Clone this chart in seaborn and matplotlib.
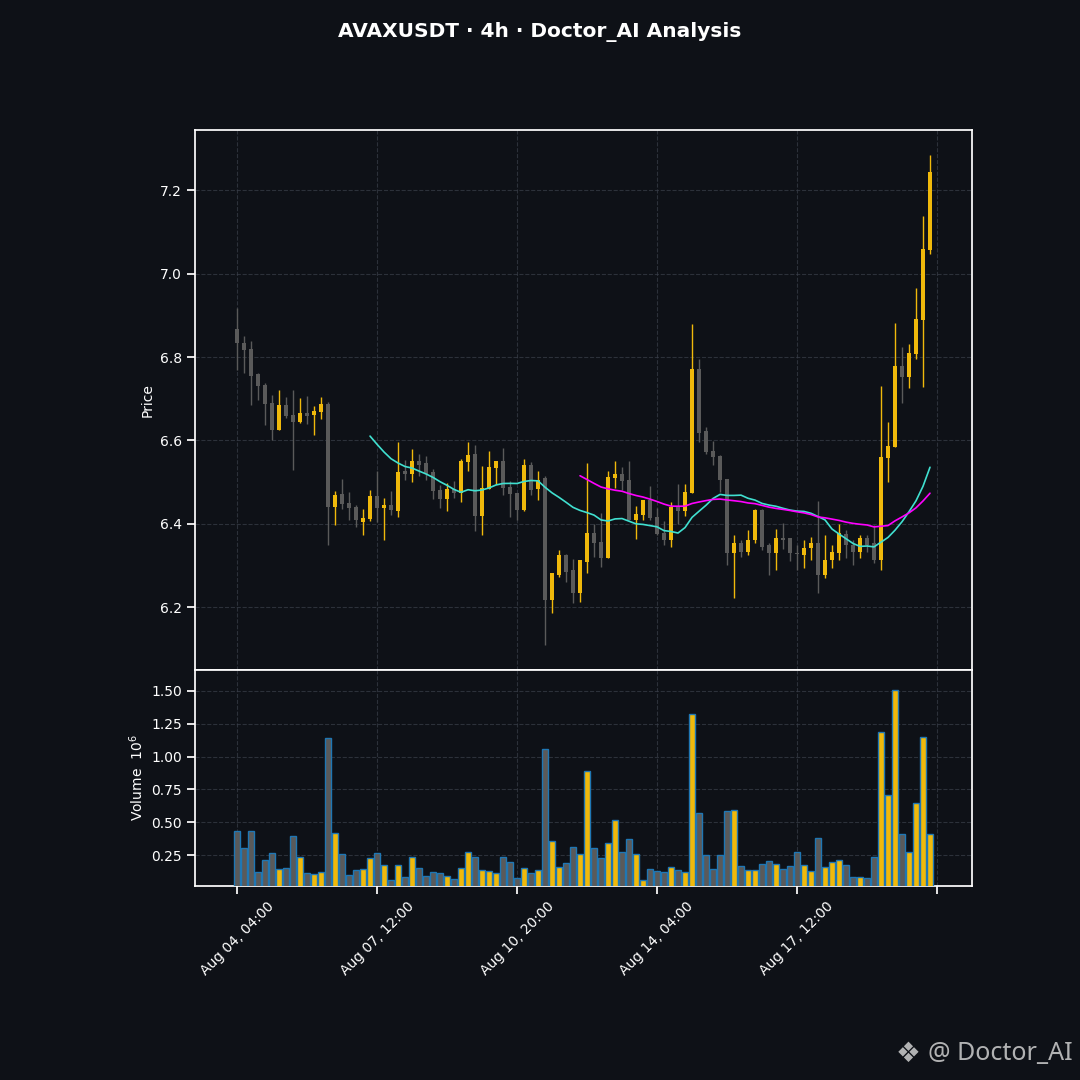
import matplotlib
matplotlib.use("Agg")
import matplotlib.pyplot as plt
import numpy as np
import pandas as pd
import seaborn as sns

# 4h candles, AVAXUSDT, starting Aug 04 04:00
start_time = "2025-08-04 04:00"

opens = [
    6.867, 6.834, 6.819, 6.759, 6.733, 6.690, 6.625, 6.685, 6.661, 6.644,
    6.666, 6.661, 6.668, 6.688, 6.441, 6.472, 6.451, 6.441, 6.405, 6.412,
    6.467, 6.439, 6.446, 6.431, 6.527, 6.520, 6.551, 6.546, 6.525, 6.482,
    6.460, 6.484, 6.474, 6.549, 6.568, 6.419, 6.484, 6.534, 6.551, 6.489,
    6.474, 6.434, 6.542, 6.484, 6.510, 6.216, 6.278, 6.324, 6.288, 6.235,
    6.309, 6.379, 6.357, 6.317, 6.510, 6.520, 6.506, 6.410, 6.422, 6.458,
    6.417, 6.379, 6.360, 6.441, 6.431, 6.474, 6.771, 6.623, 6.575, 6.563,
    6.508, 6.331, 6.355, 6.333, 6.362, 6.434, 6.348, 6.329, 6.367, 6.365,
    6.329, 6.326, 6.341, 6.353, 6.276, 6.312, 6.331, 6.376, 6.350, 6.333,
    6.365, 6.353, 6.312, 6.558, 6.585, 6.779, 6.752, 6.807, 6.889, 7.056,
]
highs = [
    6.919, 6.850, 6.838, 6.763, 6.739, 6.709, 6.721, 6.704, 6.721, 6.702,
    6.707, 6.683, 6.704, 6.692, 6.479, 6.508, 6.477, 6.446, 6.436, 6.482,
    6.527, 6.463, 6.479, 6.597, 6.553, 6.580, 6.568, 6.563, 6.532, 6.494,
    6.498, 6.503, 6.556, 6.597, 6.589, 6.539, 6.575, 6.551, 6.582, 6.503,
    6.474, 6.556, 6.549, 6.527, 6.515, 6.281, 6.336, 6.328, 6.316, 6.314,
    6.546, 6.400, 6.427, 6.527, 6.551, 6.537, 6.551, 6.443, 6.458, 6.491,
    6.439, 6.407, 6.453, 6.496, 6.496, 6.879, 6.795, 6.632, 6.599, 6.565,
    6.508, 6.372, 6.360, 6.386, 6.436, 6.436, 6.353, 6.388, 6.403, 6.365,
    6.348, 6.360, 6.369, 6.455, 6.372, 6.348, 6.400, 6.384, 6.360, 6.374,
    6.374, 6.398, 6.731, 6.645, 6.882, 6.824, 6.831, 6.965, 7.138, 7.286,
]
lows = [
    6.769, 6.761, 6.685, 6.697, 6.636, 6.600, 6.625, 6.654, 6.530, 6.642,
    6.640, 6.613, 6.652, 6.348, 6.396, 6.436, 6.408, 6.393, 6.372, 6.407,
    6.405, 6.362, 6.420, 6.417, 6.506, 6.501, 6.515, 6.506, 6.460, 6.439,
    6.431, 6.463, 6.453, 6.527, 6.383, 6.374, 6.484, 6.496, 6.470, 6.417,
    6.410, 6.431, 6.470, 6.458, 6.108, 6.187, 6.273, 6.261, 6.209, 6.213,
    6.281, 6.321, 6.297, 6.317, 6.486, 6.482, 6.408, 6.364, 6.408, 6.410,
    6.372, 6.350, 6.345, 6.400, 6.419, 6.474, 6.597, 6.568, 6.542, 6.477,
    6.300, 6.221, 6.321, 6.324, 6.355, 6.336, 6.278, 6.290, 6.340, 6.310,
    6.290, 6.295, 6.312, 6.235, 6.271, 6.295, 6.312, 6.319, 6.302, 6.317,
    6.333, 6.305, 6.290, 6.501, 6.585, 6.690, 6.726, 6.795, 6.728, 7.047,
]
closes = [
    6.833, 6.817, 6.755, 6.731, 6.688, 6.625, 6.685, 6.659, 6.644, 6.666,
    6.659, 6.671, 6.688, 6.441, 6.470, 6.448, 6.439, 6.408, 6.415, 6.467,
    6.439, 6.446, 6.434, 6.525, 6.520, 6.551, 6.541, 6.520, 6.479, 6.460,
    6.484, 6.474, 6.551, 6.565, 6.419, 6.486, 6.537, 6.551, 6.486, 6.472,
    6.434, 6.542, 6.482, 6.506, 6.216, 6.281, 6.324, 6.285, 6.235, 6.312,
    6.379, 6.355, 6.319, 6.513, 6.520, 6.503, 6.410, 6.424, 6.458, 6.415,
    6.376, 6.360, 6.441, 6.431, 6.477, 6.771, 6.618, 6.573, 6.561, 6.506,
    6.331, 6.355, 6.333, 6.362, 6.432, 6.345, 6.329, 6.367, 6.362, 6.329,
    6.327, 6.343, 6.353, 6.276, 6.314, 6.333, 6.379, 6.348, 6.333, 6.365,
    6.350, 6.312, 6.561, 6.587, 6.779, 6.752, 6.810, 6.891, 7.059, 7.243,
]
# volume in millions
volumes = [
    0.439, 0.303, 0.432, 0.122, 0.212, 0.265, 0.149, 0.152, 0.401, 0.242,
    0.114, 0.106, 0.122, 1.142, 0.424, 0.258, 0.099, 0.137, 0.144, 0.227,
    0.265, 0.174, 0.061, 0.174, 0.084, 0.242, 0.152, 0.091, 0.122, 0.114,
    0.091, 0.069, 0.152, 0.273, 0.242, 0.137, 0.129, 0.114, 0.235, 0.197,
    0.076, 0.152, 0.114, 0.137, 1.059, 0.356, 0.159, 0.190, 0.311, 0.258,
    0.893, 0.303, 0.227, 0.348, 0.522, 0.280, 0.371, 0.258, 0.061, 0.144,
    0.129, 0.122, 0.159, 0.137, 0.122, 1.324, 0.575, 0.250, 0.144, 0.250,
    0.590, 0.598, 0.167, 0.142, 0.142, 0.182, 0.205, 0.182, 0.144, 0.167,
    0.280, 0.174, 0.129, 0.386, 0.159, 0.197, 0.212, 0.174, 0.084, 0.084,
    0.076, 0.235, 1.187, 0.711, 1.505, 0.416, 0.273, 0.651, 1.150, 0.416,
]

BG = "#0e1117"
UP = "#f0b90b"
DOWN = "#5a5a5a"
VOL_EDGE = "#1f77b4"

sns.set_theme(style="ticks", rc={
    "figure.facecolor": BG,
    "axes.facecolor": BG,
    "axes.edgecolor": "white",
    "axes.labelcolor": "white",
    "text.color": "white",
    "xtick.color": "white",
    "ytick.color": "white",
    "axes.grid": True,
    "grid.color": "#3a3f4a",
    "grid.linestyle": "--",
    "grid.linewidth": 0.8,
    "grid.alpha": 0.7,
})
plt.rcParams["font.family"] = ["DejaVu Sans"]

df = pd.DataFrame({
    "open": opens, "high": highs, "low": lows, "close": closes, "volume": volumes,
})
df["idx"] = np.arange(len(df))
df["dir"] = np.where(df["close"] >= df["open"], "up", "down")
df["ma20"] = df["close"].rolling(20).mean()
df["ma50"] = df["close"].rolling(50).mean()
times = pd.date_range(start_time, periods=len(df), freq="4h")
colors = np.where(df["dir"] == "up", UP, DOWN)

fig = plt.figure(figsize=(10.8, 10.8), dpi=100)
ax = fig.add_axes([0.1806, 0.3796, 0.7194, 0.5])
axv = fig.add_axes([0.1806, 0.1796, 0.7194, 0.2], sharex=ax)

# candles
ax.vlines(df["idx"], df["low"], df["high"], colors=colors, linewidth=1.0, zorder=2)
body = (df["close"] - df["open"]).abs().clip(lower=0.002)
ax.bar(df["idx"], body, bottom=df[["open", "close"]].min(axis=1),
       width=0.6, color=colors, linewidth=0, zorder=3)

sns.lineplot(data=df, x="idx", y="ma20", color="#40e0d0", linewidth=1.2, ax=ax, zorder=4)
sns.lineplot(data=df, x="idx", y="ma50", color="#ff00ff", linewidth=1.2, ax=ax, zorder=4)

# volume
sns.barplot(data=df, x="idx", y="volume", hue="dir", palette={"up": UP, "down": DOWN},
            native_scale=True, dodge=False, width=0.95, saturation=1,
            edgecolor=VOL_EDGE, linewidth=1.0, errorbar=None, legend=False,
            ax=axv, zorder=3)

lo, hi = df["low"].min(), df["high"].max()
rng = hi - lo
ax.set_ylim(lo - 0.05 * rng, hi + 0.05 * rng)
axv.set_ylim(0.3 * df["volume"].min(), 1.1 * df["volume"].max())
axv.set_yticks([0.25, 0.5, 0.75, 1.0, 1.25, 1.5])
axv.set_xlim(-6, 105)

ticks = list(range(0, 101, 20))
labels = [times[t].strftime("%b %d, %H:%M") if t < len(df) else "" for t in ticks]
axv.set_xticks(ticks)
axv.set_xticklabels(labels, rotation=45, fontsize=10)
ax.tick_params(labelbottom=False)
ax.tick_params(axis="y", labelsize=10)
axv.tick_params(axis="y", labelsize=10)

ax.set_xlabel("")
axv.set_xlabel("")
ax.set_ylabel("Price", fontsize=10)
axv.set_ylabel("Volume  $10^{6}$", fontsize=10)

for a in (ax, axv):
    for s in a.spines.values():
        s.set_visible(True)
        s.set_color("white")
    a.set_axisbelow(True)

fig.text(0.5, 1 - 32 / 1080, "AVAXUSDT · 4h · Doctor_AI Analysis",
         ha="center", va="center", fontsize=14.5, fontweight="bold", color="white")

# watermark
fig.text(0.852, 1 - 1054 / 1080, "❖", ha="right", va="center", fontsize=20,
         color="#cfcfcf", alpha=0.85)
fig.text(0.993, 1 - 1054 / 1080, "@ Doctor_AI", ha="right", va="center", fontsize=18,
         family=["Noto Sans", "DejaVu Sans"], color="#cfcfcf", alpha=0.85)

fig.savefig("out.png", dpi=100, facecolor=BG)
